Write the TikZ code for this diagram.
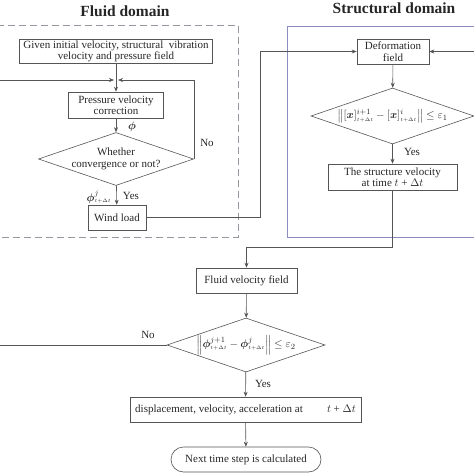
\documentclass[tikz,border=0pt]{standalone}
\usepackage{amsmath}
\usepackage{bm}
\usepackage{fontspec}
\setmainfont{Liberation Serif}
\usepackage{tikz}
\usetikzlibrary{shapes.geometric, shapes.misc, arrows.meta, positioning, calc}
\definecolor{linecolor}{RGB}{85, 85, 85}
\definecolor{zonecolor}{RGB}{150, 150, 160}
\definecolor{structcolor}{RGB}{140, 140, 190}
\newcommand{\tdt}{{\scriptscriptstyle t+\Delta t}}

\begin{document}
\begin{tikzpicture}[
    x=1pt, y=-1pt,
    every node/.style={font=\fontsize{11}{11.5}\selectfont, text=black!85},
    proc/.style={draw=linecolor, semithick, rectangle, inner sep=1pt, align=center},
    decision/.style={draw=linecolor, semithick, diamond, inner sep=0pt, align=center},
    terminal/.style={draw=linecolor, semithick, rounded rectangle, inner sep=1pt, minimum width=152pt, minimum height=25pt},
    title/.style={font=\fontsize{15.5}{17}\selectfont\bfseries},
    arrow/.style={-{Stealth[length=5pt, width=4pt]}, draw=linecolor, semithick},
    lbl/.style={font=\fontsize{11}{11.5}\selectfont},
    formula/.style={font=\fontsize{11}{12}\selectfont}
]
    \useasboundingbox (0,0) rectangle (474,474);

    % Titles
    \node[title] (fluidTitle) at (125,11) {Fluid domain};
    \node[title] (structTitle) at (394,8) {Structural domain};

    % Domain frames
    \draw[zonecolor, semithick, dash pattern=on 7pt off 4pt] (-6,25) rectangle (238,237);
    \draw[structcolor, semithick] (287,26) rectangle (482,237);

    % Fluid domain
    \node[proc, minimum width=193pt, minimum height=23pt] (init) at (116,51.5)
        {Given initial velocity, structural\ \ vibration\\velocity and pressure field};
    \coordinate (jL) at (114,80);
    \coordinate (jR) at (118,80);
    \node[proc, minimum width=95pt, minimum height=26pt] (pvc) at (116,105)
        {Pressure velocity\\correction};
    \node[decision, aspect=2.9, minimum width=155pt, minimum height=53pt] (conv) at (116,159)
        {Whether\\convergence or not?};
    \node[lbl] (phiLbl) at (132,127) {$\bm{\phi}$};
    \node[lbl] (noA) at (207,143) {No};
    \node[proc, minimum width=58pt, minimum height=25pt] (wind) at (117,217.5) {Wind load};
    \node[formula] (phiJ) at (99,197) {$\bm{\phi}^{j}_{\tdt}$};
    \node[lbl] (yesA) at (131,196) {Yes};

    % Structural domain
    \node[proc, minimum width=72pt, minimum height=25pt] (deform) at (393,51.5)
        {Deformation\\field};
    \node[decision, formula, aspect=2.9, minimum width=163pt, minimum height=56pt] (dx) at (392.5,116)
        {$\left\|[\bm{x}]^{i+1}_{\tdt}-[\bm{x}]^{i}_{\tdt}\right\|\leq\varepsilon_1$};
    \node[lbl] (yesB) at (412,152) {Yes};
    \node[proc, minimum width=129pt, minimum height=26pt] (svel) at (392.5,177)
        {The structure velocity\\at time $t$ + $\Delta t$};

    % Coupling
    \node[proc, minimum width=101pt, minimum height=25pt] (fvel) at (246.5,280.5)
        {Fluid velocity field};
    \node[decision, formula, aspect=2.9, minimum width=158pt, minimum height=54pt] (dphi) at (246,345)
        {$\left\|\bm{\phi}^{j+1}_{\tdt}-\bm{\phi}^{j}_{\tdt}\right\|\leq\varepsilon_2$};
    \node[lbl] (noB) at (148,335) {No};
    \node[lbl] (yesC) at (263,384) {Yes};
    \node[proc, minimum width=231pt, minimum height=25pt] (disp) at (245.5,409.5)
        {displacement, velocity, acceleration at\hspace{2.2em}$t$ + $\Delta t$};
    \node[terminal] (next) at (246,459.5) {Next time step is calculated};

    % Connections
    \draw[arrow] (init) -- (pvc);
    \draw[arrow] (conv.east) |- (jR);
    \draw[arrow] (dphi.west) -- ++(-185,0) |- (jL);
    \draw[arrow] (pvc) -- (conv);
    \draw[arrow] (conv) -- (wind);
    \draw[arrow] (wind.east) -- ++(114,0) |- (deform.west);
    \draw[arrow] (dx.east) -- ++(16,0) |- (deform.east);
    \draw[arrow] (deform) -- (dx);
    \draw[arrow] (dx) -- (svel);
    \draw[arrow] (svel.south) -- ++(0,57) -| (fvel.north);
    \draw[arrow] (fvel) -- (dphi);
    \draw[arrow] (dphi) -- (disp);
    \draw[arrow] (disp) -- (next);

\end{tikzpicture}
\end{document}
